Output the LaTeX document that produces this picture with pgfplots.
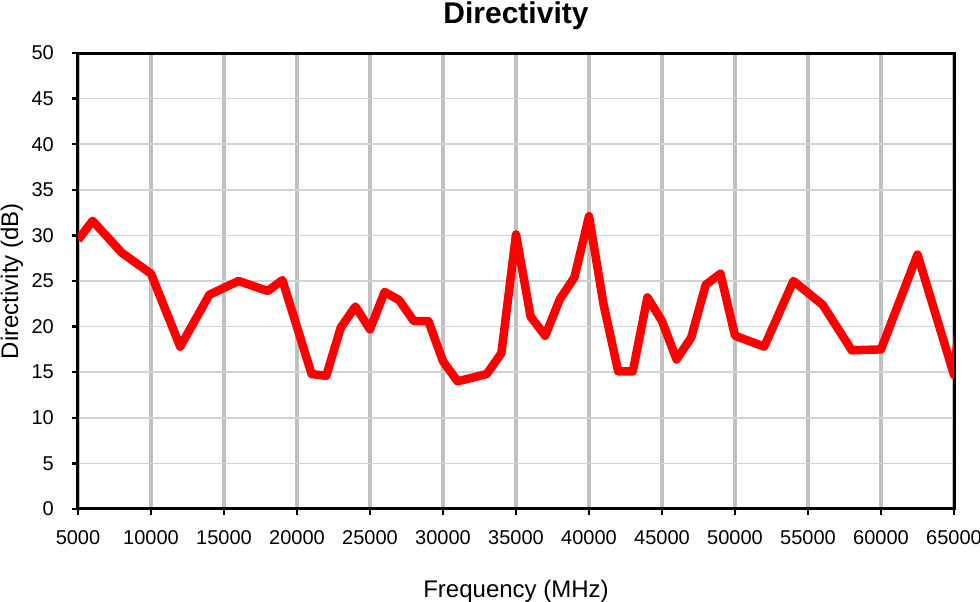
\documentclass[border=0pt]{standalone}
\usepackage{fontspec}
\setmainfont{Liberation Sans}
\usepackage{pgfplots}
\pgfplotsset{compat=1.18}

\definecolor{vgrid}{RGB}{192,192,192}
\definecolor{hgrid}{RGB}{210,210,210}

\begin{document}
\begin{tikzpicture}
\path[use as bounding box] (-78pt,-93pt) rectangle (902pt,509pt);
\begin{axis}[
    scale only axis,
    width=876pt, height=456pt,
    xmin=5000, xmax=65000,
    ymin=0, ymax=50,
    xtick={5000,10000,...,65000},
    ytick={0,5,...,50},
    scaled x ticks=false,
    /pgf/number format/1000 sep={},
    /pgf/number format/assume math mode=true,
    tick label style={font=\fontsize{20}{24}\selectfont, inner sep=0pt},
    xticklabel style={anchor=base, yshift=-30pt},
    yticklabel style={anchor=east, xshift=-18pt},
    xtick pos=bottom, ytick pos=left,
    tick align=outside,
    major tick length=6pt,
    major tick style={line width=2.5pt, black},
    axis line style={line width=3pt, black},
    grid=major,
    x grid style={line width=4pt, vgrid},
    y grid style={line width=1.5pt, hgrid},
    title={Directivity},
    title style={font=\bfseries\fontsize{30}{36}\selectfont, at={(axis description cs:0.5,1.0526)}, anchor=base},
    xlabel={Frequency (MHz)},
    xlabel style={font=\fontsize{24}{28}\selectfont, at={(axis description cs:0.5,-0.193)}, anchor=base},
    ylabel={Directivity (dB)},
    ylabel style={font=\fontsize{24}{28}\selectfont, at={(axis description cs:-0.0684,0.5)}, anchor=base, rotate=0},
]
% measured values
\addplot[red, line width=8.5pt, line join=round, mark=none] coordinates {
(5000,29.5)(6000,31.6)(8000,28.1)(10000,25.8)(12000,17.8)(14000,23.5)
(16000,25.0)(18000,23.9)(19000,25.1)(21000,14.8)(22000,14.6)(23000,19.9)
(24000,22.2)(25000,19.7)(26000,23.8)(27000,22.9)(28000,20.6)(29000,20.6)
(30000,16.2)(31000,14.0)(33000,14.8)(34000,17.1)(35000,30.1)(36000,21.1)
(37000,19.0)(38000,23.0)(39000,25.4)(40000,32.1)(41000,22.4)(42000,15.1)
(43000,15.1)(44000,23.2)(45000,20.6)(46000,16.4)(47000,18.8)(48000,24.6)
(49000,25.8)(50000,19.0)(52000,17.8)(54000,25.0)(56000,22.4)(58000,17.4)
(60000,17.5)(62500,27.9)(65000,14.7)(65400,21.0)
};
\end{axis}
\end{tikzpicture}
\end{document}
